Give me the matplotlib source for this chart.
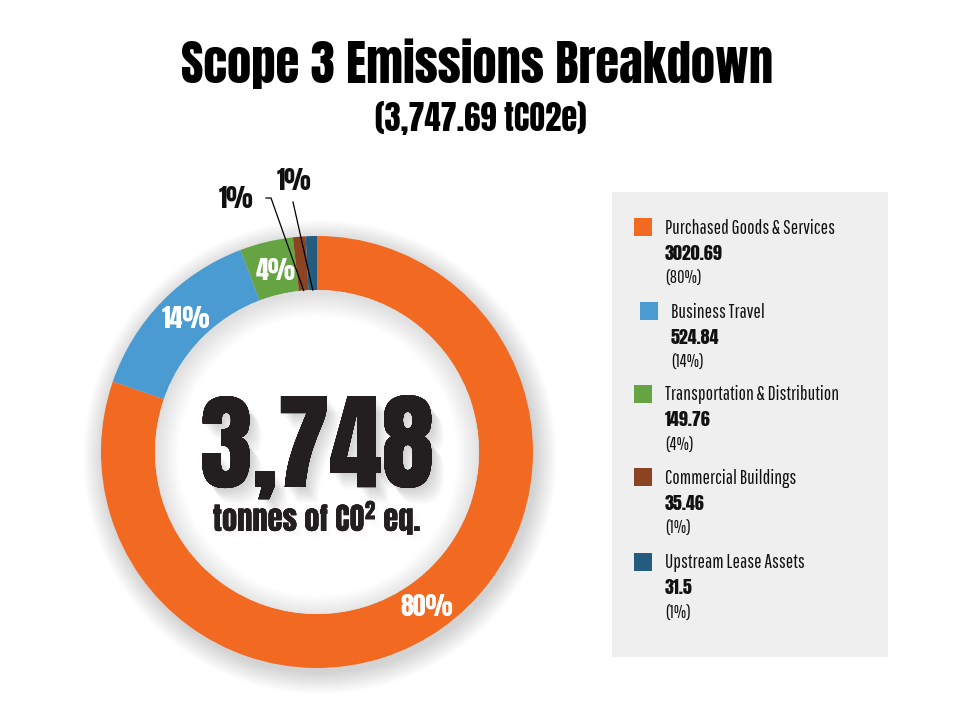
import matplotlib
matplotlib.use("Agg")
import numpy as np
import matplotlib.pyplot as plt
from matplotlib.patches import Circle, Wedge, Rectangle
import matplotlib.patheffects as pe

# ---------------- data ----------------
categories = ["Purchased Goods & Services", "Business Travel", "Transportation & Distribution",
              "Commercial Buildings", "Upstream Lease Assets"]
values = [3020.69, 524.84, 149.76, 35.46, 31.5]
pct_labels = ["80%", "14%", "4%", "1%", "1%"]
value_labels = ["3020.69", "524.84", "149.76", "35.46", "31.5"]
colors = ["#F26A21", "#4A9BD2", "#66A443", "#8B4322", "#245C80"]
title = "Scope 3 Emissions Breakdown"
subtitle = "(3,747.69 tCO2e)"
center_big = "3,748"
center_small = r"tonnes of CO$^\mathregular{2}$ eq."

BOLD = ["Anton", "DejaVu Sans"]
LIGHT = ["Pathway Gothic One", "DejaVu Sans"]
plt.rcParams["mathtext.fontset"] = "custom"
plt.rcParams["mathtext.rm"] = "Anton"

W, H = 957, 718
fig = plt.figure(figsize=(W / 100, H / 100), dpi=100)
fig.patch.set_facecolor("white")
ax = fig.add_axes([0, 0, 1, 1])

cx, cy = 317, H - 452
R, ring = 216, 54
r_in = R - ring

# soft outer shadow around the ring
for i in range(22):
    ax.add_patch(Circle((cx + 3, cy - 5), R + i * 1.0, color="black", alpha=0.006, lw=0, zorder=1))

wedges, _ = ax.pie(values, colors=colors, startangle=90, counterclock=False,
                   radius=R, center=(cx, cy),
                   wedgeprops=dict(width=ring, linewidth=0))
for w in wedges:
    w.set_zorder(2)
hole = Circle((cx, cy), r_in, color="white", lw=0, zorder=2.5)
ax.add_patch(hole)
# inner shadow cast by the ring onto the hole
for i in range(16):
    s = Wedge((cx + 1, cy - 4), r_in + 6, 0, 360, width=6 + i * 1.5,
              color="black", alpha=0.007, lw=0, zorder=3)
    ax.add_patch(s)
    s.set_clip_path(hole)

# percent labels inside ring
total = sum(values)
cum = np.cumsum([0] + values) / total
mid_angles = [np.deg2rad(90 - 360 * (cum[i] + cum[i + 1]) / 2) for i in range(len(values))]
inside_pos = {0: (427, 606), 1: (186, 318), 2: (276, 270)}
for i, (px, py) in inside_pos.items():
    ax.text(px, H - py, pct_labels[i], family=BOLD, fontsize=18.5, color="white",
            ha="center", va="center", zorder=5)

# leader lines for the two small slices
outside = {3: [(271, 198), (266, 198)], 4: [(293, 202)]}
label_pos = {3: (236, 199), 4: (294, 180)}
for i in (3, 4):
    a = mid_angles[i]
    p0 = (cx + r_in * np.cos(a), cy + r_in * np.sin(a))
    xs = [p0[0]] + [p[0] for p in outside[i]]
    ys = [p0[1]] + [H - p[1] for p in outside[i]]
    ax.plot(xs, ys, color="black", lw=0.9, zorder=6)
    lx, ly = label_pos[i]
    ax.text(lx, H - ly, pct_labels[i], family=BOLD, fontsize=18, color="#111111",
            ha="center", va="center", zorder=6)

# centre text with a diffuse drop shadow
shadow = [pe.withSimplePatchShadow(offset=(k, -1.3 * k), shadow_rgbFace="black", alpha=0.018)
          for k in range(1, 10)]
ax.text(cx, H - 487, center_big, family=BOLD, fontsize=76, color="#231F20",
        ha="center", va="baseline", zorder=6, path_effects=shadow)
ax.text(cx, H - 531, center_small, family=BOLD, fontsize=22, color="#231F20",
        ha="center", va="baseline", zorder=6,
        path_effects=[pe.withSimplePatchShadow(offset=(k, -1.3 * k), shadow_rgbFace="black", alpha=0.008)
                      for k in range(2, 5)])

# titles
ax.text(477, H - 83, title, family=BOLD, fontsize=35, color="black", ha="center", va="baseline")
ax.text(481, H - 131, subtitle, family=BOLD, fontsize=23.5, color="black", ha="center", va="baseline")

# legend panel
px0, py0, px1, py1 = 612, 192, 888, 657
ax.add_patch(Rectangle((px0, H - py1), px1 - px0, py1 - py0, color="#EFEFEF", lw=0, zorder=1))
item_y = [218, 302, 385, 468, 553]
item_dx = [0, 6, 0, 0, 0]
for i, cat in enumerate(categories):
    y0 = item_y[i]
    x0 = 634 + item_dx[i]
    ax.add_patch(Rectangle((x0, H - y0 - 18), 18, 18, color=colors[i], lw=0, zorder=3))
    tx = x0 + 31
    ax.text(tx, H - (y0 + 10), cat, family=LIGHT, fontsize=14, color="#111111", ha="left", va="center")
    ax.text(tx, H - (y0 + 35), value_labels[i], family=BOLD, fontsize=13, color="#111111", ha="left", va="center")
    ax.text(tx, H - (y0 + 61), "(" + pct_labels[i] + ")", family=LIGHT, fontsize=13, color="#111111", ha="left", va="center")

ax.set_xlim(0, W)
ax.set_ylim(0, H)
ax.set_aspect("auto")
ax.axis("off")
fig.savefig("out.png", dpi=100)
